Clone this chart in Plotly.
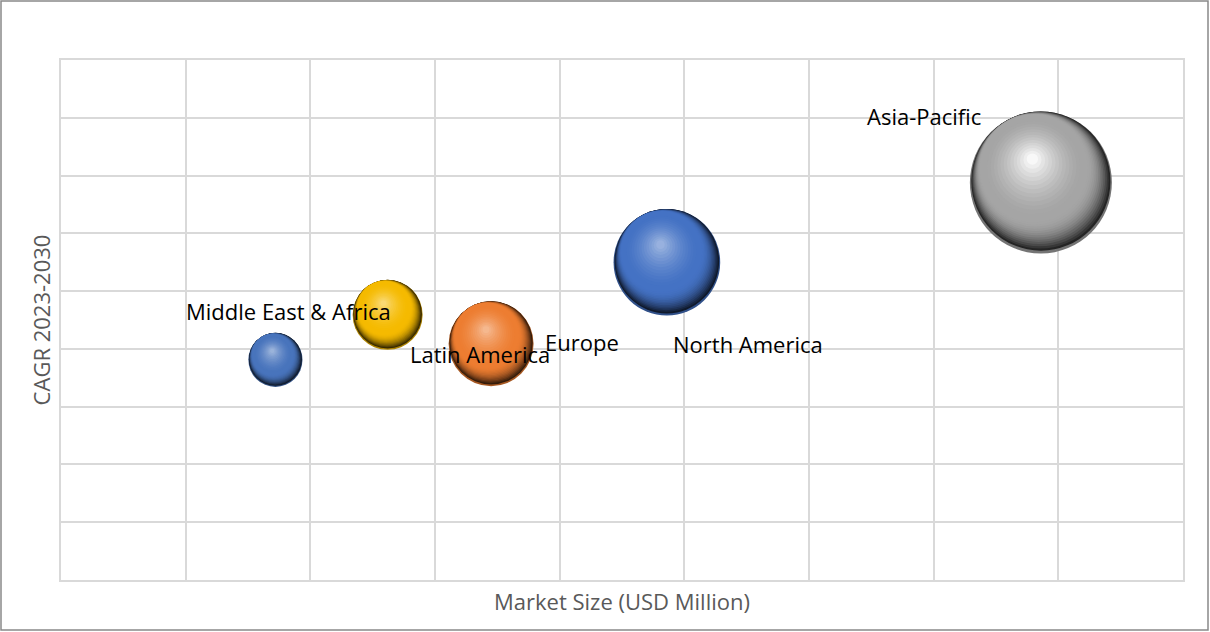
import plotly.graph_objects as go

# ---- data (grid units) ----
regions = ["North America", "Europe", "Asia-Pacific", "Latin America", "Middle East & Africa"]
market_size = [4.86, 3.45, 7.86, 2.62, 1.72]      # x position (grid units)
cagr = [5.50, 4.09, 6.88, 4.59, 3.81]              # y position (grid units)
bubble_size = [56.4, 35.8, 100.0, 24.3, 14.5]      # relative bubble area
colors = ["#4472C4", "#ED7D31", "#A5A5A5", "#F5BA00", "#4874BC"]
highlight_tint = [0.45, 0.45, 0.92, 0.45, 0.45]
# label offsets in pixels relative to bubble centre (x right, y up)
label_dx = [81, 91, -117, 92, 13]
label_dy = [-82, 2, 66, -39, 49]

W, H = 1210, 632
ML, MR, MT, MB = 61, 27, 60, 52
XR = [0, 9]
YR = [0, 9]
pw = W - ML - MR
ph = H - MT - MB
sx = pw / (XR[1] - XR[0])
sy = ph / (YR[1] - YR[0])
MAXD = 142


def hex2rgb(h):
    h = h.lstrip("#")
    return tuple(int(h[i:i + 2], 16) for i in (0, 2, 4))


def mixrgb(a, b, f):
    return tuple(a[i] + (b[i] - a[i]) * f for i in range(3))


def css(c):
    return "rgb(%d,%d,%d)" % tuple(round(v) for v in c)


base = [hex2rgb(c) for c in colors]
dark = [mixrgb(b, (0, 0, 0), 0.78) for b in base]
rim = [mixrgb(b, (0, 0, 0), 0.3) for b in base]
hilite = [mixrgb(b, (255, 255, 255), h) for b, h in zip(base, highlight_tint)]

diam = [MAXD * (v / 100.0) ** 0.5 for v in bubble_size]

fig = go.Figure()


def disc(rel_r, ox, oy, cols):
    # rel_r: radius relative to bubble radius; ox, oy offsets relative to radius (y up)
    xs = [x + ox * d / 2 / sx for x, d in zip(market_size, diam)]
    ys = [y + oy * d / 2 / sy for y, d in zip(cagr, diam)]
    fig.add_trace(go.Scatter(
        x=xs, y=ys, mode="markers", hoverinfo="skip", showlegend=False,
        marker=dict(size=[d * rel_r for d in diam], color=[css(c) for c in cols],
                    line=dict(width=0), opacity=1),
    ))


# light reflection rim at the bottom
disc(1.0, 0, 0, rim)
# dark body shading, moving toward upper-left
NA_ = 14
r0, x0, y0 = 0.98, 0.0, 0.02
r1, x1, y1 = 0.76, -0.10, 0.20
for k in range(NA_):
    t = k / (NA_ - 1)
    e = 1 - (1 - t) ** 2
    cols = [mixrgb(d, b, e) for d, b in zip(dark, base)]
    disc(r0 + (r1 - r0) * t, x0 + (x1 - x0) * t, y0 + (y1 - y0) * t, cols)
# highlight
NB = 14
r2, x2, y2 = 0.70, -0.10, 0.20
r3, x3, y3 = 0.08, -0.12, 0.33
for k in range(1, NB):
    t = k / (NB - 1)
    e = t ** 1.6
    cols = [mixrgb(b, h, e) for b, h in zip(base, hilite)]
    disc(r2 + (r3 - r2) * t, x2 + (x3 - x2) * t, y2 + (y3 - y2) * t, cols)

# labels
for name, x, y, dx, dy in zip(regions, market_size, cagr, label_dx, label_dy):
    fig.add_annotation(x=x, y=y, text=name, showarrow=False, xshift=dx, yshift=dy,
                       xanchor="center", yanchor="middle",
                       font=dict(family="Open Sans", size=22, color="#000000"))

axis_common = dict(showticklabels=False, ticks="", showgrid=True, gridcolor="#D9D9D9",
                   gridwidth=2, zeroline=False, showline=True, linecolor="#D9D9D9",
                   linewidth=2, mirror=True, dtick=1, fixedrange=True)

fig.update_layout(
    width=W, height=H,
    margin=dict(l=ML, r=MR, t=MT, b=MB),
    paper_bgcolor="white", plot_bgcolor="white",
    xaxis=dict(range=XR, title=dict(text="Market Size (USD Million)", standoff=14,
                                    font=dict(family="Open Sans", size=22, color="#595959")),
               **axis_common),
    yaxis=dict(range=YR, title=dict(text="CAGR 2023-2030", standoff=2,
                                    font=dict(family="Open Sans", size=22, color="#595959")),
               **axis_common),
    shapes=[dict(type="rect", xref="paper", yref="paper",
                 x0=(1 - ML) / pw, x1=(W - 2 - ML) / pw,
                 y0=-(H - 2 - MT - ph) / ph, y1=1 + (MT - 1) / ph,
                 line=dict(color="#898989", width=1.5), layer="below")],
)

fig.write_html("out.html", config={"displayModeBar": False},
               post_script="document.body.style.margin='0';")
